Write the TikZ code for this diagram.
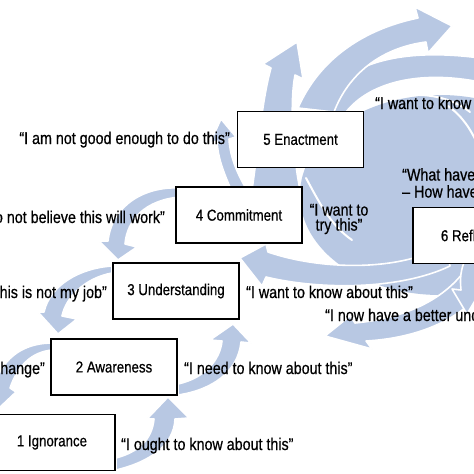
\documentclass[tikz,border=0pt]{standalone}
\usepackage{fontspec}
\setmainfont{Liberation Sans}[FakeStretch=0.84,FakeBold=0.6]
\definecolor{swirl}{RGB}{184,200,227}
\begin{document}
\begin{tikzpicture}[x=1pt,y=-1pt,
  arm/.style={fill=swirl, draw=white, line width=1.6pt, line join=round},
  gap/.style={draw=white, line width=2pt, line cap=round},
  box/.style={draw=black, fill=white, line width=1.1pt, minimum width=126pt, minimum height=56pt, inner sep=0pt, font=\fontsize{15.8}{18}\selectfont},
  quote/.style={inner sep=0pt, font=\fontsize{17}{18}\selectfont}]
\clip (0,0) rectangle (474,474);
\fill[white] (0,0) rectangle (474,474);
% swirl core
\fill[swirl] (440,195) ellipse [x radius=140pt, y radius=100pt];
% swirl arms
\path[arm] (316,112) .. controls (340,60) and (405,48) .. (480,58) -- (480,82) .. controls (420,70) and (370,82) .. (346,112) -- cycle;
\path[arm] (298,108) .. controls (318,62) and (360,30) .. (418,18) -- (415,7) -- (452,26) -- (428,53) -- (426,42) .. controls (380,48) and (348,75) .. (334,112) -- cycle;
\path[arm] (252,190) .. controls (258,150) and (262,100) .. (271,68) -- (263,64) -- (297,42) -- (303,79) -- (295,75) .. controls (290,100) and (292,150) .. (300,190) -- cycle;
\path[arm] (232,192) .. controls (225,175) and (218,160) .. (217,141) -- (210,143) -- (221,119) -- (236,137) -- (229,139) .. controls (230,158) and (238,175) .. (248,192) -- cycle;
\path[arm] (445,245) .. controls (400,272) and (320,270) .. (268,252) -- (266,244) -- (240,258) -- (262,286) -- (266,277) .. controls (320,290) and (400,290) .. (450,266) -- cycle;
\path[arm] (474,255) .. controls (455,295) and (410,318) .. (355,323) -- (350,316) -- (325,336) -- (372,349) -- (366,341) .. controls (420,338) and (462,318) .. (482,290) -- cycle;
\path[arm] (482,250) -- (466,258) .. controls (460,270) and (460,280) .. (461,290) -- (452,289) -- (467,314) -- (482,289) -- cycle;
\draw[gap] (448,106) .. controls (462,116) and (470,128) .. (478,145);
\draw[gap] (404,96) .. controls (430,92) and (455,100) .. (470,112);
\draw[gap] (306,178) .. controls (318,200) and (330,225) .. (352,240);
% ladder arrows
\path[arm] (180,188) .. controls (145,186) and (112,205) .. (108,241) -- (99,241) -- (118,260) -- (137,247) -- (125,244) .. controls (127,220) and (145,200) .. (180,197) -- cycle;
\path[arm] (112,266) .. controls (80,268) and (50,285) .. (44,312) -- (38,312) -- (58,334) -- (77,319) -- (62,316) .. controls (66,297) and (85,278) .. (112,273) -- cycle;
\path[arm] (52,343) .. controls (30,343) and (8,352) .. (-3,378) -- (-22,380) -- (-3,410) -- (16,392) -- (10,388) .. controls (18,365) and (32,352) .. (52,350) -- cycle;
\path[arm] (116,470) .. controls (150,462) and (174,445) .. (175,419) -- (189,418) -- (168,397) -- (147,419) -- (154,419) .. controls (152,440) and (138,452) .. (116,458) -- cycle;
\path[arm] (178,395) .. controls (212,390) and (238,372) .. (241,342) -- (251,343) -- (233,324) -- (210,340) -- (222,341) .. controls (220,360) and (205,378) .. (178,384) -- cycle;
% boxes
\node[box] (b5) at (300.5,139.5) {5 Enactment};
\node[box] (b4) at (239,215) {4 Commitment};
\node[box] (b3) at (176,291) {3 Understanding};
\node[box] (b2) at (114,367) {2 Awareness};
\node[box] (b1) at (52,442.5) {1 Ignorance};
\node[box] (b6) at (476,235.5) {6 Reflection};
% quotes
\node[quote, anchor=base east] (q5) at (230,144) {“I am not good enough to do this”};
\node[quote, anchor=base east] (q4) at (165,223) {“I do not believe this will work”};
\node[quote, anchor=base east] (q3) at (107,298) {“This is not my job”};
\node[quote, anchor=base east] (q2) at (45,374) {“I do not need to change”};
\node[quote, anchor=base west] (r1) at (121,450) {“I ought to know about this”};
\node[quote, anchor=base west] (r2) at (184,374) {“I need to know about this”};
\node[quote, anchor=base west] (r3) at (246,298) {“I want to know about this”};
\node[quote, align=center, font=\fontsize{17}{15}\selectfont] (r4) at (339,219) {“I want to\\try this”};
\node[quote, anchor=base west] (r6) at (325,321) {“I now have a better understanding”};
\node[quote, anchor=north west, align=left, font=\fontsize{17}{17}\selectfont] (r7) at (402,168) {“What have I learned?\\– How have I changed?”};
\node[quote, anchor=base west] (r8) at (375,109) {“I want to know more”};
\end{tikzpicture}
\end{document}
